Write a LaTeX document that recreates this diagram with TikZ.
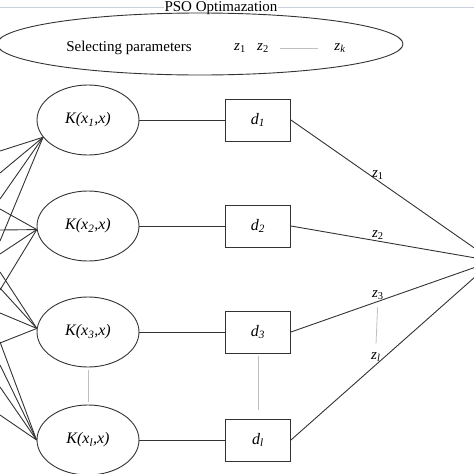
\documentclass[tikz,border=0pt]{standalone}
\usepackage{fontspec}
\setmainfont{Liberation Serif}
\usetikzlibrary{shapes.geometric}

\begin{document}
\begin{tikzpicture}[x=1pt, y=-1pt, node distance=106pt,
    kern/.style = {draw=black!80, line width=0.9pt, ellipse, minimum width=102pt, minimum height=70pt, inner sep=0pt, font=\fontsize{16}{18}\selectfont\itshape},
    dbox/.style = {draw=black!80, line width=0.9pt, rectangle, minimum width=65pt, minimum height=42pt, font=\fontsize{16}{18}\selectfont\itshape},
    lbl/.style = {font=\fontsize{15}{17}\selectfont, inner sep=1pt},
    wire/.style = {draw=black!80, line width=0.9pt},
    faint/.style = {draw=black!25, line width=0.8pt}]
    \clip (0,0) rectangle (474,474);
    % PSO part on top
    \draw[draw={rgb,255:red,200;green,208;blue,222}, line width=1pt] (0,7) -- (474,7);
    \node[lbl, fill=white, inner sep=0.5pt] (pso) at (221,8.5) {PSO Optimazation};
    \node[wire, ellipse, minimum width=406pt, minimum height=62pt] (sel) at (200,44) {};
    \node[lbl] (seltxt) at (129,48) {Selecting parameters};
    \node[lbl] (p1) at (240,48) {\textit{z}\textsubscript{1}};
    \node[lbl] (p2) at (263,48) {\textit{z}\textsubscript{2}};
    \node[lbl] (pk) at (340,48) {\textit{z}\textsubscript{\textit{k}}};
    \draw[faint, shorten <=10pt, shorten >=15pt] (p2.east) -- (pk.west);
    % kernel nodes and weights
    \node[kern] (k1) at (88,120) {K(x\textsubscript{1},x)};
    \node[kern] (k2) [below of=k1] {K(x\textsubscript{2},x)};
    \node[kern] (k3) [below of=k2] {K(x\textsubscript{3},x)};
    \node[kern] (k4) [below of=k3, yshift=-2pt] {K(x\textsubscript{l},x)};
    \node[dbox] (d1) [right of=k1, node distance=170pt] {d\textsubscript{1}};
    \node[dbox] (d2) [right of=k2, node distance=170pt] {d\textsubscript{2}};
    \node[dbox] (d3) [right of=k3, node distance=170pt] {d\textsubscript{3}};
    \node[dbox] (d4) [right of=k4, node distance=170pt] {d\textsubscript{l}};
    \foreach \i in {1,...,4}
        \draw[wire] (k\i.east) -- (d\i.west);
    \draw[faint, shorten <=3pt, shorten >=3pt] (k3.south) -- (k4.north);
    \draw[faint, shorten <=3pt, shorten >=9pt] (d3.south) -- (d4.north);
    % inputs from the left
    \foreach \y/\t [count=\i] in {151/k1.201, 173/k1.201, 199/k1.201, 241/k1.201,
                                  209/k2.184, 230/k2.184, 254/k2.184, 290/k2.184,
                                  272/k3.176, 288/k3.176, 313/k3.176, 343/k3.176,
                                  342/k4.west, 365/k4.west, 387/k4.west, 415/k4.west} {
        \coordinate (in\i) at (0,\y);
        \draw[wire] (in\i) -- (\t);
    }
    % output
    \coordinate (out) at (493,261);
    \draw[wire] (d1.east) -- node[lbl, pos=0.43, above] (w1) {\textit{z}\textsubscript{1}} (out);
    \draw[wire] (d2.east) -- node[lbl, pos=0.43, above] (w2) {\textit{z}\textsubscript{2}} (out);
    \draw[wire] (d3.east) -- node[lbl, pos=0.43, above] (w3) {\textit{z}\textsubscript{3}} (out);
    \draw[wire] (d4.east) -- node[lbl, pos=0.42, above, inner sep=3pt] (w4) {\textit{z}\textsubscript{\textit{l}}} (out);
    \draw[faint, shorten <=6pt, shorten >=5pt] (w3.south) -- (w4.north);
\end{tikzpicture}
\end{document}
